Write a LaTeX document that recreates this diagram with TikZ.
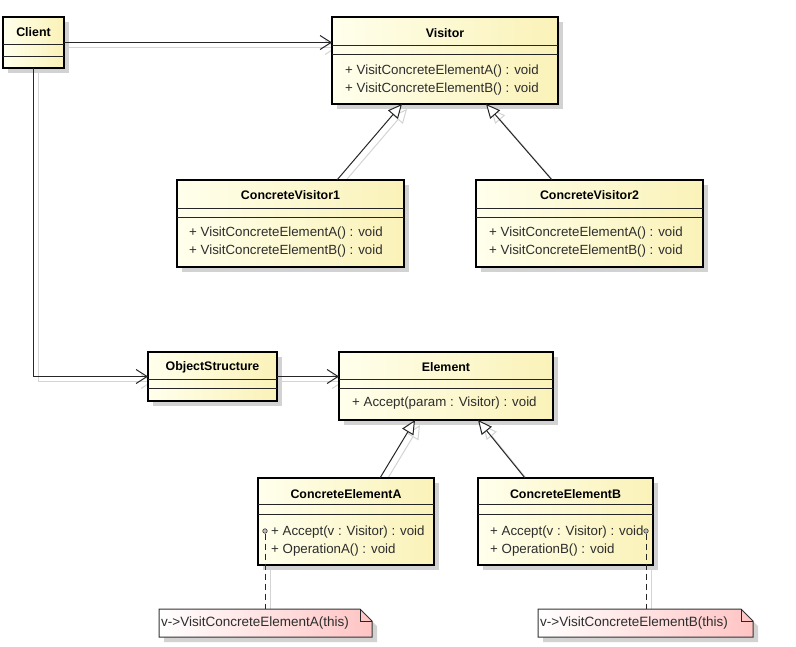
\documentclass[tikz,border=0pt]{standalone}
\usepackage{fontspec}
\setmainfont{Liberation Sans}
\usetikzlibrary{arrows.meta,shadows}
\pgfdeclarelayer{bg}
\pgfsetlayers{bg,main}
\definecolor{boxL}{RGB}{255,255,236}
\definecolor{boxR}{RGB}{250,242,184}
\definecolor{noteR}{RGB}{255,196,196}
\definecolor{txt}{RGB}{45,45,45}
\definecolor{shd}{RGB}{210,210,210}
\definecolor{lnshd}{RGB}{212,212,212}
\tikzset{
 umlbox/.style={draw=black, line width=2.5pt, left color=boxL, right color=boxR, inner sep=0pt, outer sep=0pt, anchor=north west, drop shadow={shadow xshift=5pt, shadow yshift=-5pt, fill=shd, opacity=1}},
 sepline/.style={draw=black!85, line width=0.9pt},
 ttl/.style={font=\bfseries\fontsize{12.4}{14}\selectfont, inner sep=0pt},
 meth/.style={font=\fontsize{13.3}{15}\selectfont, text=txt, anchor=west, inner sep=0pt},
 conn/.style={draw=black!85, line width=1pt},
 assoc/.style={conn, -{Straight Barb[length=11pt,width=14pt,line width=1pt]}},
 gen/.style={conn, -{Triangle[open,length=14pt,width=13pt,line width=1pt,fill=white]}},
 cshadow/.style={draw=lnshd, line width=1pt, transform canvas={xshift=5pt,yshift=-5pt}},
 notebox/.style={inner sep=0pt, outer sep=0pt, anchor=north west},
 noteshape/.style={draw=black!80, line width=1pt, left color=white, right color=noteR, drop shadow={shadow xshift=5pt, shadow yshift=-5pt, fill=shd, opacity=1}},
 notetxt/.style={font=\fontsize{13.5}{15}\selectfont, text=txt, anchor=west, inner sep=0pt},
 notepin/.style={circle, draw=black!80, fill=gray!50, line width=0.6pt, minimum size=4.5pt, inner sep=0pt},
 notelink/.style={draw=black!85, line width=1pt, dash pattern=on 6pt off 4pt},
}
\begin{document}
\begin{tikzpicture}[x=1pt,y=-1pt]
\begin{pgfonlayer}{bg}
\path[use as bounding box, fill=white] (0,0) rectangle (796,646);
\end{pgfonlayer}

% Client
\node[umlbox, minimum width=61pt, minimum height=51pt] (client) at (3,17) {};
\draw[sepline] (client.west |- 0,44) -- (client.east |- 0,44);
\draw[sepline] (client.west |- 0,56) -- (client.east |- 0,56);
\node[ttl] (clientT) at (33.5,32.5) {Client};

% Visitor
\node[umlbox, minimum width=226pt, minimum height=87pt] (visitor) at (332,17) {};
\draw[sepline] (visitor.west |- 0,45) -- (visitor.east |- 0,45);
\draw[sepline] (visitor.west |- 0,54) -- (visitor.east |- 0,54);
\node[ttl] (visitorT) at (445,33) {Visitor};
\node[meth] (visitorM1) at (345,71) {+ VisitConcreteElementA() : void};
\node[meth] (visitorM2) at (345,89) {+ VisitConcreteElementB() : void};

% ConcreteVisitor1
\node[umlbox, minimum width=227pt, minimum height=87pt] (cv1) at (177,180) {};
\draw[sepline] (cv1.west |- 0,208) -- (cv1.east |- 0,208);
\draw[sepline] (cv1.west |- 0,217) -- (cv1.east |- 0,217);
\node[ttl] (cv1T) at (290.5,195) {ConcreteVisitor1};
\node[meth] (cv1M1) at (189,233) {+ VisitConcreteElementA() : void};
\node[meth] (cv1M2) at (189,251) {+ VisitConcreteElementB() : void};

% ConcreteVisitor2
\node[umlbox, minimum width=227pt, minimum height=87pt] (cv2) at (476,180) {};
\draw[sepline] (cv2.west |- 0,208) -- (cv2.east |- 0,208);
\draw[sepline] (cv2.west |- 0,217) -- (cv2.east |- 0,217);
\node[ttl] (cv2T) at (589.5,195) {ConcreteVisitor2};
\node[meth] (cv2M1) at (489,233) {+ VisitConcreteElementA() : void};
\node[meth] (cv2M2) at (489,251) {+ VisitConcreteElementB() : void};

% ObjectStructure
\node[umlbox, minimum width=129pt, minimum height=49pt] (os) at (148,352) {};
\draw[sepline] (os.west |- 0,379) -- (os.east |- 0,379);
\draw[sepline] (os.west |- 0,388) -- (os.east |- 0,388);
\node[ttl] (osT) at (212.5,367) {ObjectStructure};

% Element
\node[umlbox, minimum width=214pt, minimum height=68pt] (element) at (339,352) {};
\draw[sepline] (element.west |- 0,379) -- (element.east |- 0,379);
\draw[sepline] (element.west |- 0,388) -- (element.east |- 0,388);
\node[ttl] (elementT) at (446,367) {Element};
\node[meth] (elementM1) at (352,403) {+ Accept(param : Visitor) : void};

% ConcreteElementA
\node[umlbox, minimum width=176pt, minimum height=87pt] (cea) at (258,478) {};
\draw[sepline] (cea.west |- 0,504) -- (cea.east |- 0,504);
\draw[sepline] (cea.west |- 0,514) -- (cea.east |- 0,514);
\node[ttl] (ceaT) at (346,494) {ConcreteElementA};
\node[meth] (ceaM1) at (271,532) {+ Accept(v : Visitor) : void};
\node[meth] (ceaM2) at (271,550) {+ OperationA() : void};

% ConcreteElementB
\node[umlbox, minimum width=175pt, minimum height=87pt] (ceb) at (478,478) {};
\draw[sepline] (ceb.west |- 0,504) -- (ceb.east |- 0,504);
\draw[sepline] (ceb.west |- 0,514) -- (ceb.east |- 0,514);
\node[ttl] (cebT) at (565.5,494) {ConcreteElementB};
\node[meth] (cebM1) at (490,532) {+ Accept(v : Visitor) : void};
\node[meth] (cebM2) at (490,550) {+ OperationB() : void};

% Notes
\node[notebox, minimum width=213pt, minimum height=28pt] (noteA) at (159,609) {};
\path[noteshape] (noteA.north west) -- ([xshift=-12pt]noteA.north east) -- ([yshift=-12pt]noteA.north east) -- (noteA.south east) -- (noteA.south west) -- cycle;
\draw[conn] ([xshift=-12pt]noteA.north east) |- ([yshift=-12pt]noteA.north east);
\node[notetxt] (noteAt) at (161,623) {v->VisitConcreteElementA(this)};

\node[notebox, minimum width=215pt, minimum height=28pt] (noteB) at (538,609) {};
\path[noteshape] (noteB.north west) -- ([xshift=-12pt]noteB.north east) -- ([yshift=-12pt]noteB.north east) -- (noteB.south east) -- (noteB.south west) -- cycle;
\draw[conn] ([xshift=-12pt]noteB.north east) |- ([yshift=-12pt]noteB.north east);
\node[notetxt] (noteBt) at (540,623) {v->VisitConcreteElementB(this)};

% note pins
\node[notepin] (pinA) at (265,531) {};
\node[notepin] (pinB) at (646,531) {};
\draw[notelink] (pinA) -- (pinA |- noteA.north);
\draw[notelink] (pinB) -- (pinB |- noteB.north);

% connectors
\draw[assoc] (client.east) -- (client.east -| visitor.west);
\draw[assoc] (client.south) |- (os.west);
\draw[assoc] (os.east) -- (os.east -| element.west);
\draw[gen] ([xshift=46.5pt]cv1.north) -- ([xshift=-43pt]visitor.south);
\draw[gen] ([xshift=-37.5pt]cv2.north) -- ([xshift=41pt]visitor.south);
\draw[gen] ([xshift=34pt]cea.north) -- ([xshift=-31pt]element.south);
\draw[gen] ([xshift=-40.5pt]ceb.north) -- ([xshift=32pt]element.south);

% connector shadows
\begin{pgfonlayer}{bg}
\draw[assoc, cshadow] (client.east) -- (client.east -| visitor.west);
\draw[assoc, cshadow] (client.south) |- (os.west);
\draw[assoc, cshadow] (os.east) -- (os.east -| element.west);
\draw[gen, cshadow] ([xshift=46.5pt]cv1.north) -- ([xshift=-43pt]visitor.south);
\draw[gen, cshadow] ([xshift=-37.5pt]cv2.north) -- ([xshift=41pt]visitor.south);
\draw[gen, cshadow] ([xshift=34pt]cea.north) -- ([xshift=-31pt]element.south);
\draw[gen, cshadow] ([xshift=-40.5pt]ceb.north) -- ([xshift=32pt]element.south);
\draw[cshadow] (pinA) -- (pinA |- noteA.north);
\draw[cshadow] (pinB) -- (pinB |- noteB.north);
\end{pgfonlayer}
\end{tikzpicture}
\end{document}
